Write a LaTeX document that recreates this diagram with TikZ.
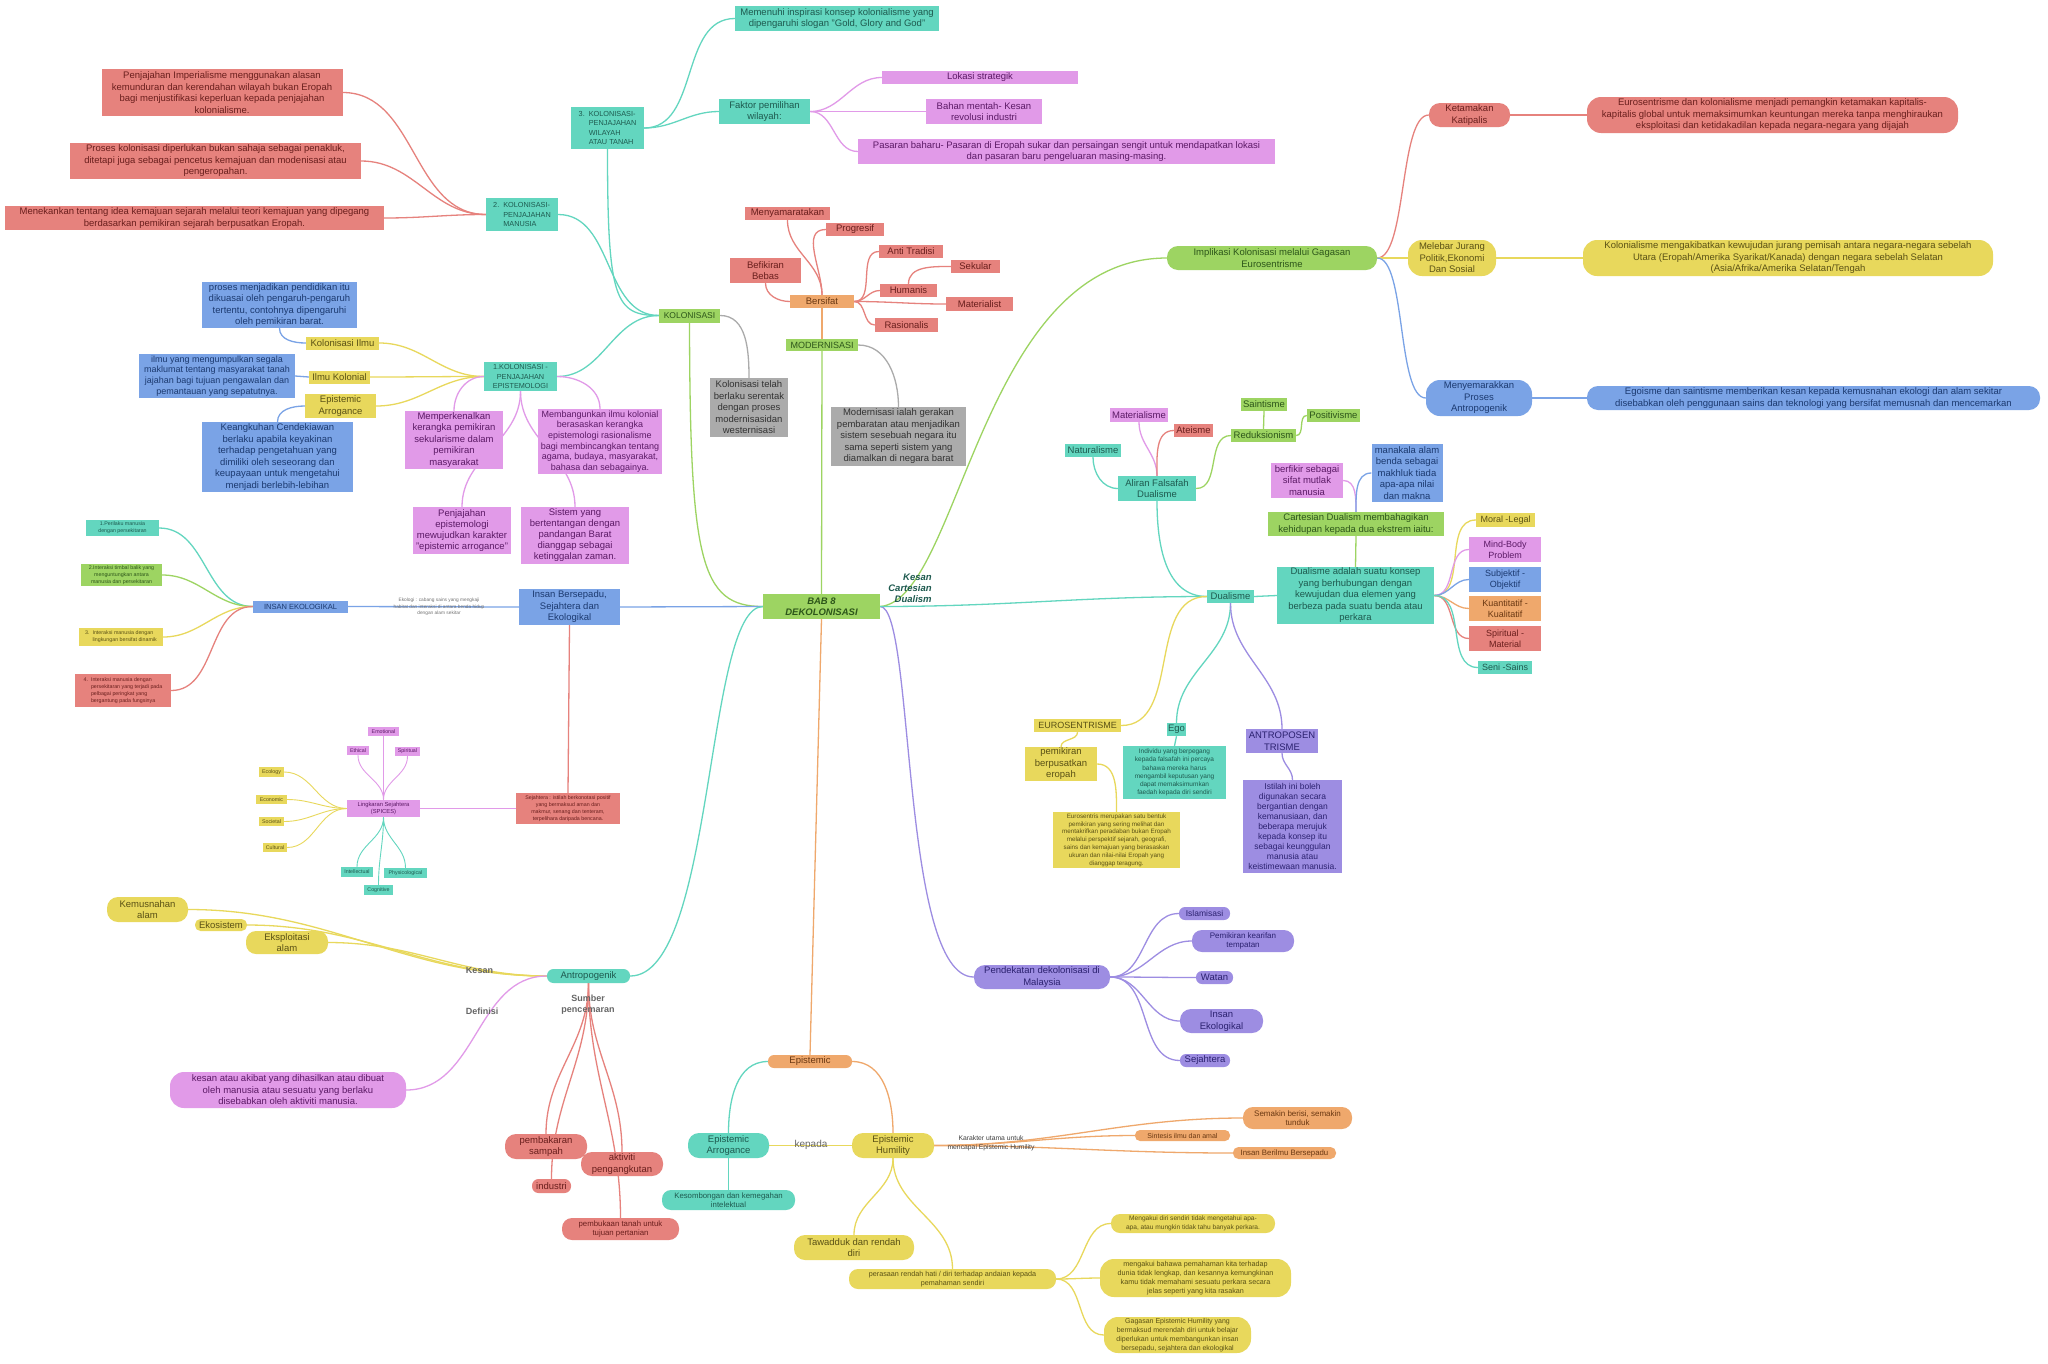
\documentclass[tikz,border=0pt]{standalone}
\usepackage{fontspec}
\setmainfont{Liberation Sans}
\newcommand\fz[2]{\fontsize{#1}{#2}\selectfont}
\pgfdeclarelayer{back}
\pgfdeclarelayer{bg}
\pgfsetlayers{back,bg,main}
\definecolor{cTe}{HTML}{63D6BF}
\definecolor{cRe}{HTML}{E6827D}
\definecolor{cGr}{HTML}{9DD462}
\definecolor{cYe}{HTML}{E8D85C}
\definecolor{cBl}{HTML}{7AA3E6}
\definecolor{cPi}{HTML}{E19AE8}
\definecolor{cOr}{HTML}{EFA86C}
\definecolor{cPu}{HTML}{9D8DE2}
\definecolor{cGy}{HTML}{ABABAB}
\definecolor{tTe}{HTML}{1E5A4F}
\definecolor{tRe}{HTML}{6A1F1D}
\definecolor{tGr}{HTML}{2D561A}
\definecolor{tYe}{HTML}{5A5115}
\definecolor{tBl}{HTML}{1C3A70}
\definecolor{tPi}{HTML}{5C1A66}
\definecolor{tOr}{HTML}{6A3812}
\definecolor{tPu}{HTML}{2C2270}
\definecolor{tGy}{HTML}{333333}
\tikzset{
  nb/.style={inner sep=1pt, align=center, font=\fz{9.5}{11.5}},
  sz/.style 2 args={minimum width=#1pt, minimum height=#2pt},
  ft/.style 2 args={font=\fz{#1}{#2}},
  fTe/.style={nb, fill=cTe, text=tTe},
  fRe/.style={nb, fill=cRe, text=tRe},
  fGr/.style={nb, fill=cGr, text=tGr},
  fYe/.style={nb, fill=cYe, text=tYe},
  fBl/.style={nb, fill=cBl, text=tBl},
  fPi/.style={nb, fill=cPi, text=tPi},
  fOr/.style={nb, fill=cOr, text=tOr},
  fPu/.style={nb, fill=cPu, text=tPu},
  fGy/.style={nb, fill=cGy, text=tGy},
  pill/.style={rounded corners=#1pt},
  ed/.style={draw=c#1, line width=1.3pt},
  eds/.style={draw=c#1, line width=0.9pt},
  lbl/.style={inner sep=0pt, align=center, font=\fz{9}{10.5}\bfseries, text=black!60},
}
\begin{document}
\begin{tikzpicture}[x=1pt,y=-1pt]
\begin{pgfonlayer}{back}
\fill[white] (0,0) rectangle (2048,1363);
\end{pgfonlayer}
\useasboundingbox (0,0) rectangle (2048,1363);

% ---------- root ----------
\node[fGr, sz={117}{25}, font=\fz{9.5}{11.5}\bfseries\itshape] (root) at (821.5,606.5) {BAB 8\\DEKOLONISASI};

% ---------- KOLONISASI branch ----------
\node[fGr, sz={61}{14}, ft={8.5}{10}] (kol) at (689.5,315.5) {KOLONISASI};
\node[fTe, sz={72}{33}, ft={7.3}{9.3}, align=left] (man2) at (522,214.5) {2.\ \ KOLONISASI-\\\hphantom{2.\ \ }PENJAJAHAN\\\hphantom{2.\ \ }MANUSIA};
\node[fTe, sz={73}{42}, ft={7.3}{9.3}, align=left] (wil3) at (607.5,128) {3.\ \ KOLONISASI-\\\hphantom{3.\ \ }PENJAJAHAN\\\hphantom{3.\ \ }WILAYAH\\\hphantom{3.\ \ }ATAU TANAH};
\node[fTe, sz={73}{29}, ft={7.3}{9.3}] (epi1) at (520.5,376.5) {1.KOLONISASI -\\PENJAJAHAN\\EPISTEMOLOGI};
\node[fRe, sz={241}{47}] (imper) at (222,92.5) {Penjajahan Imperialisme menggunakan alasan\\kemunduran dan kerendahan wilayah bukan Eropah\\bagi menjustifikasi keperluan kepada penjajahan\\kolonialisme.};
\node[fRe, sz={291}{36}] (proses) at (215.5,161) {Proses kolonisasi diperlukan bukan sahaja sebagai penakluk,\\ditetapi juga sebagai pencetus kemajuan dan modenisasi atau\\pengeropahan.};
\node[fRe, sz={379}{24}] (menekan) at (194.5,218) {Menekankan tentang idea kemajuan sejarah melalui teori kemajuan yang dipegang\\berdasarkan pemikiran sejarah berpusatkan Eropah.};
\node[fTe, sz={204}{25}] (memenuhi) at (837,18.5) {Memenuhi inspirasi konsep kolonialisme yang\\dipengaruhi slogan "Gold, Glory and God"};
\node[fTe, sz={91}{25}] (faktor) at (764.5,111.5) {Faktor pemilihan\\wilayah:};
\node[fPi, sz={196}{13}] (lokasi) at (980,77.5) {Lokasi strategik};
\node[fPi, sz={116}{25}] (bahan) at (984,111.5) {Bahan mentah- Kesan\\revolusi industri};
\node[fPi, sz={417}{25}] (pasaran) at (1066.5,151.5) {Pasaran baharu- Pasaran di Eropah sukar dan persaingan sengit untuk mendapatkan lokasi\\dan pasaran baru pengeluaran masing-masing.};
\node[fBl, sz={155}{46}] (prosesm) at (279.5,305) {proses menjadikan pendidikan itu\\dikuasai oleh pengaruh-pengaruh\\tertentu, contohnya dipengaruhi\\oleh pemikiran barat.};
\node[fYe, sz={73}{13}] (kilmu) at (342.5,343) {Kolonisasi Ilmu};
\node[fBl, sz={156}{44}, ft={9}{10.8}] (ilmuyang) at (217,376) {ilmu yang mengumpulkan segala\\maklumat tentang masyarakat tanah\\jajahan bagi tujuan pengawalan dan\\pemantauan yang sepatutnya.};
\node[fYe, sz={61}{13}] (ikol) at (339.5,377) {Ilmu Kolonial};
\node[fYe, sz={71}{24}] (earr1) at (340.5,406) {Epistemic\\Arrogance};
\node[fBl, sz={151}{70}] (keangk) at (277.5,457) {Keangkuhan Cendekiawan\\berlaku apabila keyakinan\\terhadap pengetahuan yang\\dimiliki oleh seseorang dan\\keupayaan untuk mengetahui\\menjadi berlebih-lebihan};
\node[fPi, sz={98}{58}] (memper) at (454,440) {Memperkenalkan\\kerangka pemikiran\\sekularisme dalam\\pemikiran\\masyarakat};
\node[fPi, sz={124}{65}, ft={9}{10.6}] (memban) at (600,441.5) {Membangunkan ilmu kolonial\\berasaskan kerangka\\epistemologi rasionalisme\\bagi membincangkan tentang\\agama, budaya, masyarakat,\\bahasa dan sebagainya.};
\node[fPi, sz={98}{47}, ft={9.5}{11}] (pepist) at (462,530.5) {Penjajahan\\epistemologi\\mewujudkan karakter\\"epistemic arrogance"};
\node[fPi, sz={108}{57}, ft={9.5}{11}] (sistem) at (575,535.5) {Sistem yang\\bertentangan dengan\\pandangan Barat\\dianggap sebagai\\ketinggalan zaman.};
\node[fGy, sz={78}{59}] (koltelah) at (749,407.5) {Kolonisasi telah\\berlaku serentak\\dengan proses\\modernisasidan\\westernisasi};

% ---------- MODERNISASI ----------
\node[fGr, sz={72}{12}, ft={9}{10}] (modern) at (822,345) {MODERNISASI};
\node[fGy, sz={135}{59}] (modialah) at (898.5,436.5) {Modernisasi ialah gerakan\\pembaratan atau menjadikan\\sistem sesebuah negara itu\\sama seperti sistem yang\\diamalkan di negara barat};
\node[fOr, sz={64}{13}] (bersifat) at (822,301.5) {Bersifat};
\node[fRe, sz={85}{13}] (menyama) at (787.5,213.5) {Menyamaratakan};
\node[fRe, sz={58}{13}] (progresif) at (855,229.5) {Progresif};
\node[fRe, sz={71}{25}] (befikiran) at (765.5,270.5) {Befikiran\\Bebas};
\node[fRe, sz={64}{13}] (anti) at (911,251.5) {Anti Tradisi};
\node[fRe, sz={49}{13}] (sekular) at (975.5,266.5) {Sekular};
\node[fRe, sz={57}{13}] (humanis) at (908.5,290.5) {Humanis};
\node[fRe, sz={67}{14}] (material) at (979.5,304) {Materialist};
\node[fRe, sz={63}{14}] (rasional) at (906.5,325) {Rasionalis};

% ---------- Implikasi ----------
\node[fGr, sz={210}{24}, pill=11] (implik) at (1272,258) {Implikasi Kolonisasi melalui Gagasan\\Eurosentrisme};
\node[fRe, sz={81}{24}, pill=11] (ketam) at (1469.5,115) {Ketamakan\\Katipalis};
\node[fRe, sz={371}{36}, pill=14] (eurokol) at (1772.5,115) {Eurosentrisme dan kolonialisme menjadi pemangkin ketamakan kapitalis-\\kapitalis global untuk memaksimumkan keuntungan mereka tanpa menghiraukan\\eksploitasi dan ketidakadilan kepada negara-negara yang dijajah};
\node[fYe, sz={88}{36}, pill=14] (melebar) at (1452,258) {Melebar Jurang\\Politik,Ekonomi\\Dan Sosial};
\node[fYe, sz={410}{36}, pill=14] (kolmeng) at (1788,258) {Kolonialisme mengakibatkan kewujudan jurang pemisah antara negara-negara sebelah\\Utara (Eropah/Amerika Syarikat/Kanada) dengan negara sebelah Selatan\\(Asia/Afrika/Amerika Selatan/Tengah};
\node[fBl, sz={106}{36}, pill=14] (menyem) at (1479,398) {Menyemarakkan\\Proses\\Antropogenik};
\node[fBl, sz={453}{24}, pill=11] (egois) at (1813.5,398) {Egoisme dan saintisme memberikan kesan kepada kemusnahan ekologi dan alam sekitar\\disebabkan oleh penggunaan sains dan teknologi yang bersifat memusnah dan mencemarkan};

% ---------- Dualisme ----------
\node[fPi, sz={58}{14}] (materialisme) at (1139,415) {Materialisme};
\node[fGr, sz={46}{13}] (saintisme) at (1264,404.5) {Saintisme};
\node[fGr, sz={53}{13}] (positiv) at (1333.5,415.5) {Positivisme};
\node[fRe, sz={39}{13}] (ateisme) at (1193.5,430.5) {Ateisme};
\node[fGr, sz={65}{13}] (reduks) at (1263.5,435.5) {Reduksionism};
\node[fTe, sz={56}{13}] (natural) at (1093,450.5) {Naturalisme};
\node[fTe, sz={78}{25}] (aliran) at (1157,488.5) {Aliran Falsafah\\Dualisme};
\node[fPi, sz={72}{35}] (berfikir) at (1307,480.5) {berfikir sebagai\\sifat mutlak\\manusia};
\node[fBl, sz={71}{58}] (manakala) at (1407,473) {manakala alam\\benda sebagai\\makhluk tiada\\apa-apa nilai\\dan makna};
\node[fGr, sz={176}{24}] (cartes) at (1356,524) {Cartesian Dualism membahagikan\\kehidupan kepada dua ekstrem iaitu:};
\node[fTe, sz={47}{13}] (dualisme) at (1230.5,596.5) {Dualisme};
\node[fTe, sz={157}{57}] (dualadalah) at (1355.5,595.5) {Dualisme adalah suatu konsep\\yang berhubungan dengan\\kewujudan dua elemen yang\\berbeza pada suatu benda atau\\perkara};
\node[fYe, sz={59}{14}, ft={9}{11}] (moral) at (1505.5,520) {Moral -Legal};
\node[fPi, sz={72}{25}, ft={9}{11}] (mindbody) at (1505,549.5) {Mind-Body\\Problem};
\node[fBl, sz={72}{25}, ft={9}{11}] (subj) at (1505,579.5) {Subjektif -\\Objektif};
\node[fOr, sz={72}{25}, ft={9}{11}] (kuant) at (1505,608.5) {Kuantitatif -\\Kualitatif};
\node[fRe, sz={72}{25}, ft={9}{11}] (spirit) at (1505,638.5) {Spiritual -\\Material};
\node[fTe, sz={54}{13}, ft={9}{11}] (seni) at (1505,667.5) {Seni -Sains};
\node[fYe, sz={87}{13}, ft={9}{10}] (eurosen) at (1077.5,725.5) {EUROSENTRISME};
\node[fTe, sz={19}{13}] (ego) at (1176.5,729.5) {Ego};
\node[fPu, sz={72}{24}] (antropo) at (1282,741) {ANTROPOSEN\\TRISME};
\node[fYe, sz={72}{34}] (pemberpus) at (1061,764) {pemikiran\\berpusatkan\\eropah};
\node[fTe, sz={103}{53}, ft={6.5}{8.3}] (individu) at (1174.5,772.5) {Individu yang berpegang\\kepada falsafah ini percaya\\bahawa mereka harus\\mengambil keputusan yang\\dapat memaksimumkan\\faedah kepada diri sendiri};
\node[fYe, sz={127}{56}, ft={6.3}{7.8}] (eurosentris) at (1116.5,840) {Eurosentris merupakan satu bentuk\\pemikiran yang sering melihat dan\\mentakrifkan peradaban bukan Eropah\\melalui perspektif sejarah, geografi,\\sains dan kemajuan yang berasaskan\\ukuran dan nilai-nilai Eropah yang\\dianggap teragung.};
\node[fPu, sz={99}{93}, ft={8.5}{10.1}] (istilah) at (1292.5,826.5) {Istilah ini boleh\\digunakan secara\\bergantian dengan\\kemanusiaan, dan\\beberapa merujuk\\kepada konsep itu\\sebagai keunggulan\\manusia atau\\keistimewaan manusia.};

% ---------- Insan ----------
\node[fBl, sz={95}{12}, ft={7.5}{9}] (insaneko) at (300.5,606.5) {INSAN EKOLOGIKAL};
\node[fTe, sz={73}{16}, ft={5.3}{6.8}] (perilaku) at (122.5,528) {1.Perilaku manusia\\dengan persekitaran};
\node[fGr, sz={81}{22}, ft={5.3}{6.8}] (interaksi2) at (121.5,575) {2.Interaksi timbal balik yang\\menguntungkan antara\\manusia dan persekitaran};
\node[fYe, sz={84}{18}, ft={5.3}{6.8}, align=left] (interaksi3) at (121,637) {3.\ \ Interaksi manusia dengan\\\hphantom{3.\ \ }lingkungan bersifat dinamik};
\node[fRe, sz={96}{33}, ft={5.3}{6.8}, align=left] (interaksi4) at (123,690.5) {4.\ \ Interaksi manusia dengan\\\hphantom{4.\ \ }persekitaran yang terjadi pada\\\hphantom{4.\ \ }pelbagai peringkat yang\\\hphantom{4.\ \ }bergantung pada fungsinya};
\node[fBl, sz={101}{36}] (insanber) at (569.5,607) {Insan Bersepadu,\\Sejahtera dan\\Ekologikal};
\node[fRe, sz={104}{31}, ft={5.3}{7.2}] (sejdef) at (568,808.5) {Sejahtera : istilah berkonotasi positif\\yang bermaksud aman dan\\makmur, senang dan tenteram,\\terpelihara daripada bencana.};
\node[fPi, sz={73}{17}, ft={5.8}{7}] (lingkaran) at (383.5,808.5) {Lingkaran Sejahtera\\(SPICES)};
\node[fPi, sz={31}{9}, ft={5.3}{6}] (emotional) at (383.5,731.5) {Emotional};
\node[fPi, sz={22}{9}, ft={5.3}{6}] (ethical) at (358,750.5) {Ethical};
\node[fPi, sz={25}{9}, ft={5.3}{6}] (spiritual) at (407.5,751.5) {Spiritual};
\node[fYe, sz={25}{10}, ft={5.3}{6}] (ecology) at (271.5,772) {Ecology};
\node[fYe, sz={31}{9}, ft={5.3}{6}] (economic) at (271.5,799.5) {Economic};
\node[fYe, sz={25}{9}, ft={5.3}{6}] (societal) at (271.5,821.5) {Societal};
\node[fYe, sz={24}{9}, ft={5.3}{6}] (cultural) at (275,847.5) {Cultural};
\node[fTe, sz={32}{10}, ft={5.3}{6}] (intellectual) at (357,872) {Intellectual};
\node[fTe, sz={43}{10}, ft={5.3}{6}] (physio) at (405.5,873) {Physicological};
\node[fTe, sz={29}{10}, ft={5.3}{6}] (cognitive) at (378.5,890) {Cognitive};

% ---------- Antropogenik ----------
\node[fTe, sz={83}{14}, pill=6.5] (antropog) at (588.5,976) {Antropogenik};
\node[fYe, sz={81}{25}, pill=11] (kemusnahan) at (147.5,909.5) {Kemusnahan\\alam};
\node[fYe, sz={52}{12}, pill=5.5] (ekosistem) at (221,925) {Ekosistem};
\node[fYe, sz={82}{23}, pill=10] (eksploitasi) at (287,942.5) {Eksploitasi\\alam};
\node[fPi, sz={236}{36}, pill=14] (kesanakibat) at (288,1090) {kesan atau akibat yang dihasilkan atau dibuat\\oleh manusia atau sesuatu yang berlaku\\disebabkan oleh aktiviti manusia.};
\node[fRe, sz={82}{25}, pill=11] (pembakaran) at (546,1146.5) {pembakaran\\sampah};
\node[fRe, sz={82}{24}, pill=11] (aktiviti) at (622,1164) {aktiviti\\pengangkutan};
\node[fRe, sz={39}{14}, pill=6.5] (industri) at (551.5,1186) {industri};
\node[fRe, sz={117}{22}, pill=10, ft={7.8}{9.5}] (pembukaan) at (620.5,1229) {pembukaan tanah untuk\\tujuan pertanian};

% ---------- Epistemic ----------
\node[fOr, sz={84}{13}, pill=6] (epistemic) at (810,1061.5) {Epistemic};
\node[fTe, sz={81}{25}, pill=11] (earr2) at (728.5,1145.5) {Epistemic\\Arrogance};
\node[fYe, sz={82}{25}, pill=11] (ehum) at (893,1145.5) {Epistemic\\Humility};
\node[fTe, sz={133}{20}, pill=9, ft={7.8}{9}] (kesomb) at (728.5,1200) {Kesombongan dan kemegahan\\intelektual};
\node[fOr, sz={109}{22}, pill=10, ft={8}{9.5}] (semakin) at (1297.5,1118) {Semakin berisi, semakin\\tunduk};
\node[fOr, sz={95}{11}, pill=5, ft={7}{8}] (sintesis) at (1182.5,1135.5) {Sintesis ilmu dan amal};
\node[fOr, sz={103}{12}, pill=5.5, ft={7.8}{9}] (insanberilmu) at (1284.5,1153) {Insan Berilmu Bersepadu};
\node[fYe, sz={120}{25}, pill=11] (tawadduk) at (854,1247.5) {Tawadduk dan rendah\\diri};
\node[fYe, sz={207}{20}, pill=9, ft={7.2}{9}] (perasaan) at (952.5,1279) {perasaan rendah hati / diri terhadap andaian kepada\\pemahaman sendiri};
\node[fYe, sz={164}{19}, pill=9, ft={6.6}{8.5}] (mengakui) at (1193,1223.5) {Mengakui diri sendiri tidak mengetahui apa-\\apa, atau mungkin tidak tahu banyak perkara.};
\node[fYe, sz={191}{38}, pill=14, ft={7.2}{9}] (mengakuib) at (1195.5,1278) {mengakui bahawa pemahaman kita terhadap\\dunia tidak lengkap, dan kesannya kemungkinan\\kamu tidak memahami sesuatu perkara secara\\jelas seperti yang kita rasakan};
\node[fYe, sz={147}{36}, pill=14, ft={7}{8.8}] (gagasan) at (1177.5,1335) {Gagasan Epistemic Humility yang\\bermaksud merendah diri untuk belajar\\diperlukan untuk membangunkan insan\\bersepadu, sejahtera dan ekologikal};

% ---------- Pendekatan ----------
\node[fPu, sz={136}{24}, pill=11] (pendekatan) at (1042,977) {Pendekatan dekolonisasi di\\Malaysia};
\node[fPu, sz={51}{13}, pill=6, ft={8.5}{10}] (islamisasi) at (1204.5,913.5) {Islamisasi};
\node[fPu, sz={102}{22}, pill=10, ft={8}{9.5}] (pemikirank) at (1243,941) {Pemikiran kearifan\\tempatan};
\node[fPu, sz={37}{13}, pill=6] (watan) at (1214.5,977.5) {Watan};
\node[fPu, sz={83}{24}, pill=11] (insanekol2) at (1221.5,1021) {Insan\\Ekologikal};
\node[fPu, sz={50}{13}, pill=6] (sejahtera2) at (1205,1060.5) {Sejahtera};

% ---------- connectors ----------
\begin{pgfonlayer}{bg}
\draw[ed=Gr] (kol.south) .. controls (690,560) and (700,606.5) .. (root.west);
\draw[ed=Gr] (modern.south) -- (root.north);
\draw[ed=Or] (bersifat.south) -- (modern.north);
\draw[ed=Or] (root.south) -- (epistemic.north);
\draw[ed=Bl] (insanber.east) -- (root.west);
\draw[ed=Te] (root.west) .. controls (705,607) and (715,976) .. (antropog.east);
\draw[ed=Pu] (root.east) .. controls (915,607) and (900,977) .. (pendekatan.west);
\draw[ed=Gr] (root.east) .. controls (960,600) and (980,258) .. (implik.west);
\draw[ed=Te] (root.east) to[out=0,in=180] (dualisme.west);

\draw[ed=Te] (kol.west) to[out=180,in=0] (epi1.east);
\draw[ed=Te] (kol.west) to[out=180,in=0] (man2.east);
\draw[ed=Te] (wil3.south) .. controls (607.5,300) and (615,315.5) .. (kol.west);
\draw[ed=Gy] (kol.east) to[out=0,in=90] (koltelah.north);
\draw[ed=Te] (wil3.east) to[out=0,in=180] (memenuhi.west);
\draw[ed=Te] (wil3.east) to[out=0,in=180] (faktor.west);
\foreach \q in {lokasi,bahan,pasaran} \draw[ed=Pi] (faktor.east) to[out=0,in=180] (\q.west);
\foreach \q in {imper,proses,menekan} \draw[ed=Re] (man2.west) to[out=180,in=0] (\q.east);
\foreach \q in {kilmu,ikol,earr1} \draw[ed=Ye] (epi1.west) to[out=180,in=0] (\q.east);
\draw[ed=Pi] (epi1.west) to[out=180,in=90] (memper.north);
\draw[ed=Pi] (epi1.east) to[out=0,in=90] (memban.north);
\draw[ed=Pi] (epi1.south) to[out=270,in=90] (pepist.north);
\draw[ed=Pi] (epi1.south) to[out=270,in=90] (sistem.north);
\draw[ed=Bl] (kilmu.west) to[out=180,in=270] (prosesm.south);
\draw[ed=Bl] (ikol.west) -- (ilmuyang.east);
\draw[ed=Bl] (earr1.west) to[out=180,in=90] (keangk.north);

\draw[ed=Re] (bersifat.north) to[out=90,in=270] (menyama.south);
\draw[ed=Re] (bersifat.north) to[out=90,in=180] (progresif.west);
\draw[ed=Re] (bersifat.west) to[out=180,in=270] (befikiran.south);
\foreach \q in {anti,humanis,material,rasional} \draw[ed=Re] (bersifat.east) to[out=0,in=180] (\q.west);
\draw[ed=Re] (humanis.north) to[out=90,in=180] (sekular.west);
\draw[ed=Gy] (modern.east) to[out=0,in=90] (modialah.north);

\draw[ed=Re] (implik.east) to[out=0,in=180,looseness=0.5] (ketam.west);
\draw[ed=Ye] (implik.east) -- (melebar.west);
\draw[ed=Bl] (implik.east) to[out=0,in=180,looseness=0.5] (menyem.west);
\draw[ed=Re] (ketam.east) -- (eurokol.west);
\draw[ed=Ye] (melebar.east) -- (kolmeng.west);
\draw[ed=Bl] (menyem.east) -- (egois.west);

\draw[ed=Te] (dualisme.west) to[out=180,in=270] (aliran.south);
\draw[ed=Ye] (dualisme.west) to[out=180,in=0] (eurosen.east);
\draw[ed=Te] (dualisme.south) to[out=270,in=90] (ego.north);
\draw[ed=Pu] (dualisme.south) to[out=270,in=90] (antropo.north);
\draw[ed=Te] (dualisme.east) -- (dualadalah.west);
\draw[ed=Gr] (dualadalah.north) -- (cartes.south);
\draw[ed=Pi] (cartes.north) to[out=90,in=0] (berfikir.east);
\draw[ed=Bl] (cartes.north) to[out=90,in=180] (manakala.west);
\draw[ed=Ye] (dualadalah.east) to[out=0,in=180] (moral.west);
\draw[ed=Pi] (dualadalah.east) to[out=0,in=180] (mindbody.west);
\draw[ed=Bl] (dualadalah.east) to[out=0,in=180] (subj.west);
\draw[ed=Or] (dualadalah.east) to[out=0,in=180] (kuant.west);
\draw[ed=Re] (dualadalah.east) to[out=0,in=180] (spirit.west);
\draw[ed=Te] (dualadalah.east) to[out=0,in=180] (seni.west);
\draw[ed=Te] (aliran.west) to[out=180,in=270] (natural.south);
\draw[ed=Pi] (aliran.north) to[out=90,in=270] (materialisme.south);
\draw[ed=Re] (aliran.north) to[out=90,in=180] (ateisme.west);
\draw[ed=Gr] (aliran.east) to[out=0,in=180] (reduks.west);
\draw[ed=Gr] (reduks.north) -- (saintisme.south);
\draw[ed=Gr] (reduks.east) to[out=0,in=180] (positiv.west);
\draw[ed=Ye] (eurosen.south) to[out=270,in=90] (pemberpus.north);
\draw[ed=Ye] (pemberpus.east) to[out=0,in=90] (eurosentris.north);
\draw[ed=Te] (ego.south) -- (individu.north);
\draw[ed=Pu] (antropo.south) to[out=270,in=90] (istilah.north);

\draw[ed=Te] (insaneko.west) to[out=180,in=0] (perilaku.east);
\draw[ed=Gr] (insaneko.west) to[out=180,in=0] (interaksi2.east);
\draw[ed=Ye] (insaneko.west) to[out=180,in=0] (interaksi3.east);
\draw[ed=Re] (insaneko.west) to[out=180,in=0] (interaksi4.east);
\draw[ed=Bl] (insaneko.east) -- (insanber.west);
\draw[ed=Re] (insanber.south) -- (sejdef.north);
\draw[ed=Pi] (sejdef.west) -- (lingkaran.east);
\foreach \q in {emotional,ethical,spiritual} \draw[eds=Pi] (lingkaran.north) to[out=90,in=270] (\q.south);
\foreach \q in {ecology,economic,societal,cultural} \draw[eds=Ye] (lingkaran.west) to[out=180,in=0] (\q.east);
\foreach \q in {intellectual,physio,cognitive} \draw[eds=Te] (lingkaran.south) to[out=270,in=90] (\q.north);

\foreach \q in {kemusnahan,ekosistem,eksploitasi} \draw[ed=Ye] (antropog.west) to[out=180,in=0] (\q.east);
\draw[ed=Pi] (antropog.west) to[out=180,in=0] (kesanakibat.east);
\foreach \q in {pembakaran,industri,aktiviti,pembukaan} \draw[ed=Re] (antropog.south) to[out=270,in=90] (\q.north);

\draw[ed=Te] (epistemic.west) to[out=180,in=90] (earr2.north);
\draw[ed=Or] (epistemic.east) to[out=0,in=90] (ehum.north);
\draw[ed=Ye] (earr2.east) -- (ehum.west);
\draw[ed=Te] (earr2.south) -- (kesomb.north);
\foreach \q in {semakin,sintesis,insanberilmu} \draw[ed=Or] (ehum.east) to[out=0,in=180] (\q.west);
\draw[ed=Ye] (ehum.south) to[out=270,in=90] (tawadduk.north);
\draw[ed=Ye] (ehum.south) to[out=270,in=90] (perasaan.north);
\foreach \q in {mengakui,mengakuib,gagasan} \draw[ed=Ye] (perasaan.east) to[out=0,in=180] (\q.west);

\foreach \q in {islamisasi,pemikirank,watan,insanekol2,sejahtera2} \draw[ed=Pu] (pendekatan.east) to[out=0,in=180] (\q.west);
\end{pgfonlayer}

% ---------- connector labels ----------
\node[lbl, font=\fz{9.5}{11}\bfseries\itshape, text=tTe, align=right] (lcart) at (910,588) {Kesan\\Cartesian\\Dualism};
\node[lbl, font=\fz{4.8}{6.5}, text=black!55] (lekol) at (439,607) {Ekologi : cabang sains yang mengkaji\\habitat dan interaksi di antara benda hidup\\dengan alam sekitar};
\node[lbl] (lkesan) at (479.5,970) {Kesan};
\node[lbl] (ldef) at (482,1011) {Definisi};
\node[lbl] (lsumber) at (588,1004.5) {Sumber\\pencemaran};
\node[lbl, font=\fz{10}{11}, text=black!60] (lkepada) at (811,1145) {kepada};
\node[lbl, font=\fz{6.8}{8.5}, text=black!75] (lkarakter) at (991,1143) {Karakter utama untuk\\mencapai Epistemic Humility};
\end{tikzpicture}
\end{document}
